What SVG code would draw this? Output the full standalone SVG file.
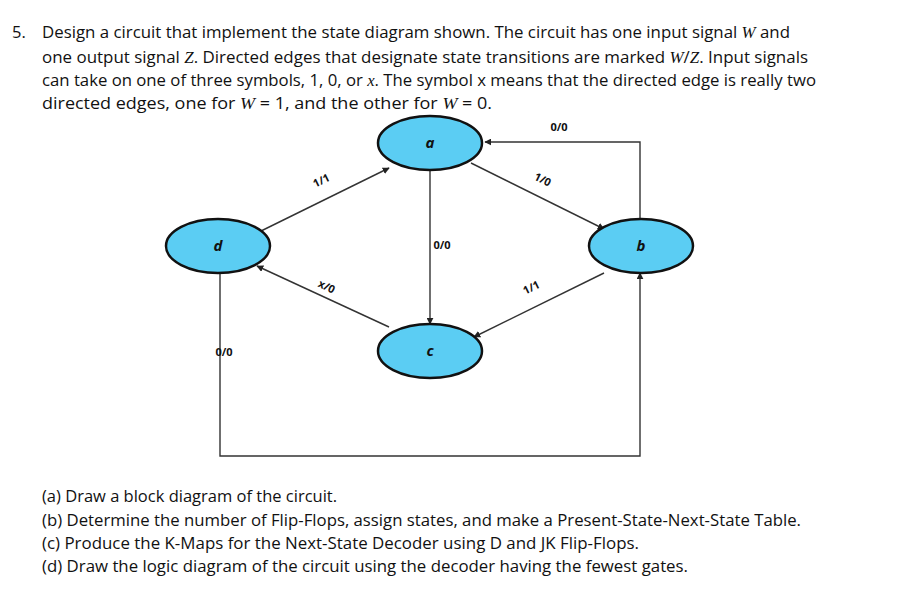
<svg xmlns="http://www.w3.org/2000/svg" width="899" height="600" viewBox="0 0 899 600">
<defs>
<marker id="ah" viewBox="0 0 10 10" refX="9" refY="5" markerWidth="7" markerHeight="7" orient="auto" markerUnits="userSpaceOnUse"><path d="M0,0 L10,5 L0,10 z" fill="#222"/></marker>
<style>
.t{font-family:"Open Sans","Liberation Sans",sans-serif;font-size:16.5px;fill:#111}
.n ellipse{fill:#5bcdf3;stroke:#111;stroke-width:2.5}
.n text{font-family:"Open Sans","Liberation Sans",sans-serif;font-size:15px;font-weight:bold;font-style:italic;fill:#111;text-anchor:middle}
.e{stroke:#333;stroke-width:1.4;fill:none;marker-end:url(#ah)}
.l{font-family:"Open Sans","Liberation Sans",sans-serif;font-size:11px;font-weight:bold;fill:#111;text-anchor:middle}
</style>
</defs>
<rect width="899" height="600" fill="#fff"/>
<g id="question">
<text class="t" x="12" y="38">5.</text>
<text class="t" x="42" y="38" textLength="748" lengthAdjust="spacingAndGlyphs">Design a circuit that implement the state diagram shown.  The circuit has one input signal <tspan font-style="italic" font-family="Liberation Serif">W</tspan> and</text>
<text class="t" x="42" y="63" textLength="766" lengthAdjust="spacingAndGlyphs">one output signal <tspan font-style="italic" font-family="Liberation Serif">Z</tspan>.  Directed edges that designate state transitions are marked <tspan font-style="italic" font-family="Liberation Serif">W</tspan>/<tspan font-style="italic" font-family="Liberation Serif">Z</tspan>. Input signals</text>
<text class="t" x="42" y="86" textLength="774" lengthAdjust="spacingAndGlyphs">can take on one of three symbols, 1, 0, or <tspan font-style="italic" font-family="Liberation Serif">x</tspan>.  The symbol x means that the directed edge is really two</text>
<text class="t" x="42" y="109" textLength="450" lengthAdjust="spacingAndGlyphs">directed edges, one for <tspan font-style="italic" font-family="Liberation Serif">W</tspan> = 1, and the other for <tspan font-style="italic" font-family="Liberation Serif">W</tspan> = 0.</text>
</g>
<g id="connectors">
<line class="e" x1="430" y1="170" x2="430" y2="324"/>
<line class="e" x1="259" y1="232" x2="389" y2="168"/>
<line class="e" x1="471" y1="163" x2="604" y2="229"/>
<line class="e" x1="604" y1="273" x2="474" y2="337"/>
<line class="e" x1="389" y1="327" x2="257" y2="266"/>
<polyline class="e" points="220,273 220,456 640,456 640,273"/>
<polyline class="e" points="640,219 640,142 485,142"/>
<text class="l" x="442" y="249" text-anchor="start">0/0</text>
<text class="l" transform="translate(323,184) rotate(-26)">1/1</text>
<text class="l" transform="translate(541,183) rotate(26)">1/0</text>
<text class="l" transform="translate(325,290) rotate(26)">x/0</text>
<text class="l" transform="translate(533,291) rotate(-26)">1/1</text>
<text class="l" x="559" y="131">0/0</text>
<text class="l" x="224" y="356" text-anchor="start">0/0</text>
</g>
<g id="node-a" class="n"><ellipse cx="430" cy="143" rx="52" ry="27"/><text x="430" y="148">a</text></g>
<g id="node-b" class="n"><ellipse cx="641" cy="246" rx="52" ry="27"/><text x="641" y="251">b</text></g>
<g id="node-c" class="n"><ellipse cx="430" cy="351" rx="52" ry="27"/><text x="430" y="356">c</text></g>
<g id="node-d" class="n"><ellipse cx="218" cy="246" rx="52" ry="27"/><text x="218" y="251">d</text></g>
<g id="parts">
<text class="t" x="42" y="502">(a)  Draw a block diagram of the circuit.</text>
<text class="t" x="42" y="526" textLength="759" lengthAdjust="spacingAndGlyphs">(b)  Determine the number of Flip-Flops, assign states, and make a Present-State-Next-State Table.</text>
<text class="t" x="42" y="549" textLength="597" lengthAdjust="spacingAndGlyphs">(c)  Produce the K-Maps for the Next-State Decoder using D and JK Flip-Flops.</text>
<text class="t" x="42" y="572" textLength="646" lengthAdjust="spacingAndGlyphs">(d)  Draw the logic diagram of the circuit using the decoder having the fewest gates.</text>
</g>
</svg>
